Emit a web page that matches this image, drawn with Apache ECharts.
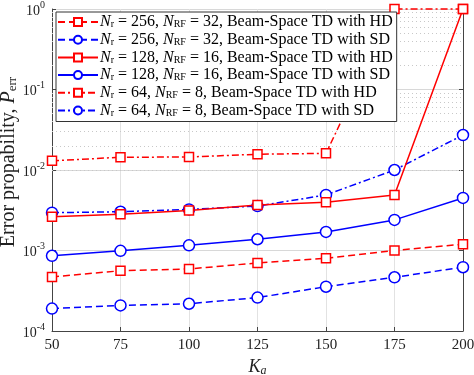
<!DOCTYPE html>
<html>
<head>
<meta charset="utf-8">
<script src="https://cdn.jsdelivr.net/npm/echarts@6/dist/echarts.min.js"></script>
<style>
html,body{margin:0;padding:0;background:#fff;}
#main{width:474px;height:375px;}
</style>
</head>
<body>
<div id="main"></div>
<script>
var ka = [50, 75, 100, 125, 150, 175, 200];
var hd256 = [4.7e-4, 5.6e-4, 5.9e-4, 7.0e-4, 8.0e-4, 1.0e-3, 1.2e-3];
var sd256 = [1.9e-4, 2.08e-4, 2.18e-4, 2.6e-4, 3.55e-4, 4.65e-4, 6.2e-4];
var hd128 = [2.63e-3, 2.83e-3, 3.13e-3, 3.67e-3, 3.98e-3, 4.9e-3, 1];
var sd128 = [8.6e-4, 9.9e-4, 1.16e-3, 1.38e-3, 1.7e-3, 2.4e-3, 4.5e-3];
var hd64 = [0.0130, 0.0144, 0.0145, 0.0157, 0.0161, 1, 1];
var sd64 = [2.95e-3, 3.03e-3, 3.24e-3, 3.56e-3, 4.9e-3, 0.010, 0.0272];
var nr = ['256', '256', '128', '128', '64', '64'];
var nrf = ['32', '32', '16', '16', '8', '8'];
var det = ['HD', 'SD', 'HD', 'SD', 'HD', 'SD'];
// 次刻度网格
var minorTicks = [];
for (var e = -4; e < 0; e++) {
	for (var m = 2; m <= 9; m++) {
		minorTicks.push(m * Math.pow(10, e));
	}
}

var serif = '"Liberation Serif", "DejaVu Serif", serif';
var red = '#ff0000', blue = '#0000ff';
var dashed = [7, 4];
var dashdot = [7, 3, 2, 3];

function pts(arr){
	var out = [];
	for (var i = 0; i < ka.length; i++) {
		out.push([ka[i], arr[i]]);
	}
	return out;
}

var seriesDefs = [
	{data: hd256, color: red, type: dashed, symbol: 'rect', size: 9},
	{data: sd256, color: blue, type: dashed, symbol: 'circle', size: 11},
	{data: hd128, color: red, type: 'solid', symbol: 'rect', size: 9},
	{data: sd128, color: blue, type: 'solid', symbol: 'circle', size: 11},
	{data: hd64, color: red, type: dashdot, symbol: 'rect', size: 9},
	{data: sd64, color: blue, type: dashdot, symbol: 'circle', size: 11}
];

var names = [];
var series = [];
for (var i = 0; i < seriesDefs.length; i++) {
	var d = seriesDefs[i];
	var name = 'Nr=' + nr[i] + ',NRF=' + nrf[i] + ',' + det[i];
	names.push(name);
	series.push({
		name: name,
		type: 'line',
		data: pts(d.data),
		symbol: d.symbol,
		symbolSize: d.size,
		showAllSymbol: true,
		clip: false,
		z: 10 - i,
		itemStyle: {color: '#fff', borderColor: d.color, borderWidth: 1.5},
		lineStyle: {color: d.color, width: 1.5, type: d.type},
		emphasis: {disabled: true}
	});
}
// 次网格线
series.push({
	type: 'line',
	data: [],
	silent: true,
	markLine: {
		silent: true,
		symbol: 'none',
		label: {show: false},
		lineStyle: {color: '#c8c8c8', type: [1, 3], width: 1},
		data: minorTicks.map(function(v){ return {yAxis: v}; })
	}
});

function legendText(name){
	var i = names.indexOf(name);
	return '{i|N}{s|r}{t| = ' + nr[i] + ', }{i|N}{s|RF}{t| = ' + nrf[i] + ', Beam-Space TD with ' + det[i] + '}';
}

function expLabel(v){
	var e = Math.round(Math.log(v) / Math.LN10);
	return '{b|10}{p|' + e + '}';
}

var myChart = echarts.init(document.getElementById('main'));
var option = {
	backgroundColor: '#fff',
	animation: false,
	grid: {
		left: 52,
		right: 11,
		top: 9,
		bottom: 44,
		containLabel: false,
		outerBoundsMode: 'none'
	},
	legend: {
		data: names,
		orient: 'vertical',
		left: 56,
		top: 12,
		padding: [2, 4, 3, 1],
		itemGap: 1.7,
		itemWidth: 40,
		itemHeight: 10,
		backgroundColor: '#fff',
		borderColor: '#333',
		borderWidth: 1,
		selectedMode: false,
		formatter: legendText,
		textStyle: {
			fontFamily: serif,
			fontSize: 16,
			color: '#000',
			padding: [0, 0, 0, -3],
			rich: {
				i: {fontFamily: serif, fontSize: 16, fontStyle: 'italic', lineHeight: 15},
				s: {fontFamily: serif, fontSize: 10, verticalAlign: 'bottom', lineHeight: 15, padding: [4, 0, 0, 0]},
				t: {fontFamily: serif, fontSize: 16, lineHeight: 15}
			}
		},
		z: 20
	},
	xAxis: {
		type: 'value',
		min: 50,
		max: 200,
		interval: 25,
		name: '{i|K}{s|a}',
		nameLocation: 'middle',
		nameGap: 27,
		nameMoveOverlap: false,
		nameTextStyle: {
			rich: {
				i: {fontFamily: serif, fontSize: 18, fontStyle: 'italic', color: '#222'},
				s: {fontFamily: serif, fontSize: 12, fontStyle: 'italic', color: '#222', verticalAlign: 'bottom', padding: [7, 0, 0, 0]}
			}
		},
		axisLine: {onZero: false, lineStyle: {color: '#444', width: 1}},
		axisTick: {inside: true, length: 4, lineStyle: {color: '#444'}},
		axisLabel: {fontFamily: serif, fontSize: 15, color: '#222', margin: 7},
		splitLine: {show: true, lineStyle: {color: '#e2e2e2', width: 1}}
	},
	yAxis: [{
		type: 'log',
		logBase: 10,
		min: 1e-4,
		max: 1,
		name: '{t|Error propability, }{i|P}{s|err}',
		nameLocation: 'middle',
		nameGap: 33,
		nameMoveOverlap: false,
		nameTextStyle: {
			padding: [0, 0, 0, 16],
			rich: {
				t: {fontFamily: serif, fontSize: 20, color: '#222'},
				i: {fontFamily: serif, fontSize: 20, fontStyle: 'italic', color: '#222'},
				s: {fontFamily: serif, fontSize: 13, color: '#222', verticalAlign: 'bottom', padding: [6, 0, 0, 0]}
			}
		},
		axisLine: {show: true, lineStyle: {color: '#444', width: 1}},
		axisTick: {inside: true, length: 4, lineStyle: {color: '#444'}},
		axisLabel: {
			formatter: expLabel,
			margin: 7,
			rich: {
				b: {fontFamily: serif, fontSize: 14, color: '#222', lineHeight: 18, verticalAlign: 'bottom'},
				p: {fontFamily: serif, fontSize: 10, color: '#222', lineHeight: 18, verticalAlign: 'top'}
			}
		},
		splitLine: {show: true, lineStyle: {color: '#d8d8d8', width: 1}}
	}, {
		type: 'log',
		logBase: 10,
		min: 1e-4,
		max: 1,
		position: 'right',
		axisLine: {show: true, lineStyle: {color: '#444', width: 1}},
		axisTick: {inside: true, length: 4, lineStyle: {color: '#444'}},
		axisLabel: {show: false},
		splitLine: {show: false}
	}],
	series: series
};
myChart.setOption(option);
</script>
</body>
</html>
